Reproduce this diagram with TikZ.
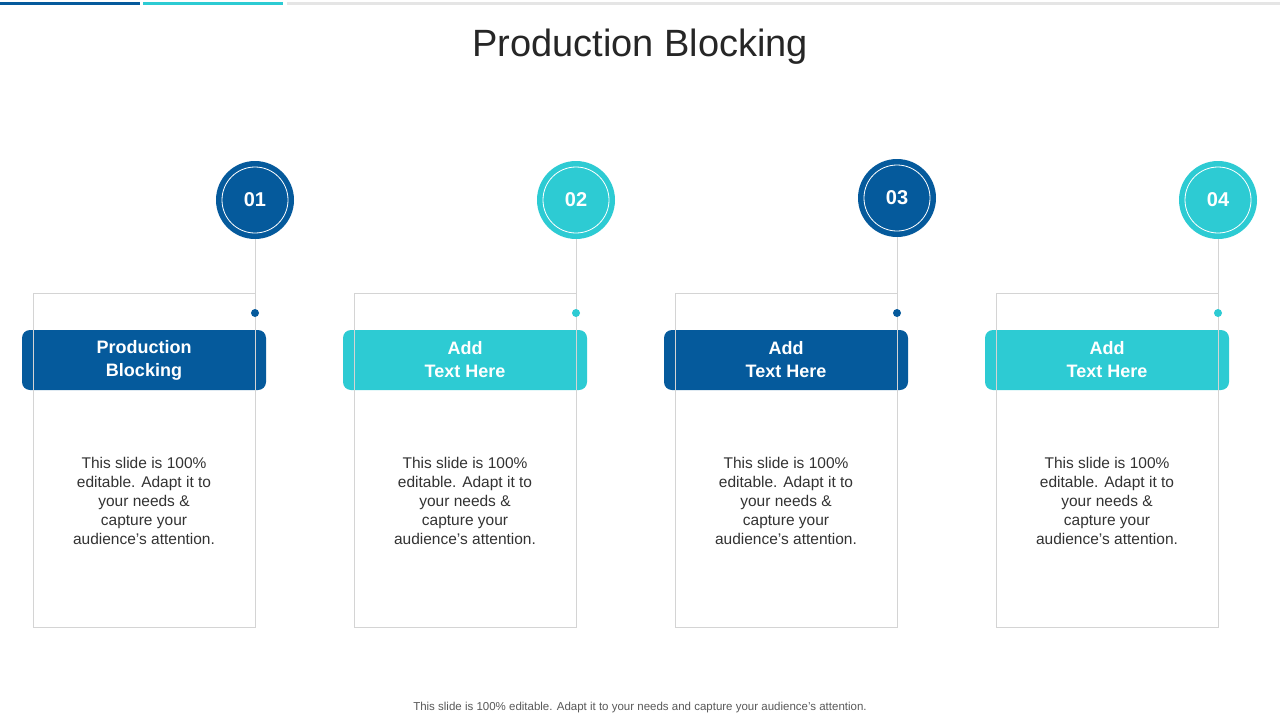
\documentclass[tikz,border=0pt]{standalone}
\usepackage{fontspec}
\setmainfont{Liberation Sans}
\definecolor{dk}{HTML}{055A9C}
\definecolor{tl}{HTML}{2DCBD3}
\definecolor{gl}{HTML}{D4D4D4}
\begin{document}
\begin{tikzpicture}[x=1pt,y=-1pt,
  card/.style={draw=gl,line width=0.8pt},
  banner/.style={rounded corners=8pt,minimum width=244pt,minimum height=60pt,inner sep=0pt,text=white,font=\fontsize{18}{23}\selectfont\bfseries,align=center},
  num/.style={circle,minimum size=78pt,inner sep=0pt,text=white,font=\fontsize{20}{24}\selectfont\bfseries},
  body/.style={align=center,text=black!80,font=\fontsize{15.5}{19}\selectfont}]
\useasboundingbox (0,0) rectangle (1280,720);
\fill[white] (0,0) rectangle (1280,720);
\fill[dk] (0,2) rectangle (140,5);
\fill[tl] (143,2) rectangle (283,5);
\fill[gl!60] (287,2) rectangle (1280,5);
\node[font=\fontsize{38}{44}\selectfont,text=black!85] (title) at (640,47) {Production Blocking};
\foreach \i/\c/\t/\cy in {0/dk/{Production\\Blocking}/200,1/tl/{Add\\Text Here}/200,2/dk/{Add\\Text Here}/198,3/tl/{Add\\Text Here}/200}{
  \begin{scope}[xshift=321*\i]
  \node[banner,fill=\c] (b\i) at (144,360) {\t};
  \draw[card] (33,293) rectangle (255,627);
  \node[num,fill=\c] (n\i) at (255,\cy) {0\the\numexpr\i+1\relax};
  \draw[white,line width=0.8pt] (n\i.center) circle (33pt);
  \coordinate (k\i) at (255,293);
  \draw[card] (n\i.south) -- (k\i);
  \fill[\c] (255,313) circle (4pt);
  \node[body] (t\i) at (144,501) {This slide is 100\%\\editable. Adapt it to\\your needs \&\\capture your\\audience’s attention.};
  \end{scope}}
\node[font=\fontsize{11.5}{14}\selectfont,text=black!65] (foot) at (640,708) {This slide is 100\% editable. Adapt it to your needs and capture your audience’s attention.};
\end{tikzpicture}
\end{document}
